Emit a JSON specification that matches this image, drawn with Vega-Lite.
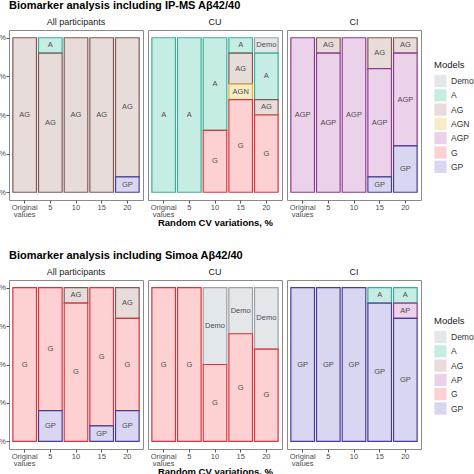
{
  "$schema": "https://vega.github.io/schema/vega-lite/v6.json",
  "padding": {"left": -15, "top": 0, "right": 0, "bottom": 0},
  "background": "white",
  "datasets": {
    "ipms": [
      {"group": "All participants", "cv": "Original values", "model": "AG", "pct": 100},
      {"group": "All participants", "cv": "5", "model": "A", "pct": 10},
      {"group": "All participants", "cv": "5", "model": "AG", "pct": 90},
      {"group": "All participants", "cv": "10", "model": "AG", "pct": 100},
      {"group": "All participants", "cv": "15", "model": "AG", "pct": 100},
      {"group": "All participants", "cv": "20", "model": "AG", "pct": 90},
      {"group": "All participants", "cv": "20", "model": "GP", "pct": 10},
      {"group": "CU", "cv": "Original values", "model": "A", "pct": 100},
      {"group": "CU", "cv": "5", "model": "A", "pct": 100},
      {"group": "CU", "cv": "10", "model": "A", "pct": 60},
      {"group": "CU", "cv": "10", "model": "G", "pct": 40},
      {"group": "CU", "cv": "15", "model": "A", "pct": 10},
      {"group": "CU", "cv": "15", "model": "AG", "pct": 20},
      {"group": "CU", "cv": "15", "model": "AGN", "pct": 10},
      {"group": "CU", "cv": "15", "model": "G", "pct": 60},
      {"group": "CU", "cv": "20", "model": "Demo", "pct": 10},
      {"group": "CU", "cv": "20", "model": "A", "pct": 30},
      {"group": "CU", "cv": "20", "model": "AG", "pct": 10},
      {"group": "CU", "cv": "20", "model": "G", "pct": 50},
      {"group": "CI", "cv": "Original values", "model": "AGP", "pct": 100},
      {"group": "CI", "cv": "5", "model": "AG", "pct": 10},
      {"group": "CI", "cv": "5", "model": "AGP", "pct": 90},
      {"group": "CI", "cv": "10", "model": "AGP", "pct": 100},
      {"group": "CI", "cv": "15", "model": "AG", "pct": 20},
      {"group": "CI", "cv": "15", "model": "AGP", "pct": 70},
      {"group": "CI", "cv": "15", "model": "GP", "pct": 10},
      {"group": "CI", "cv": "20", "model": "AG", "pct": 10},
      {"group": "CI", "cv": "20", "model": "AGP", "pct": 60},
      {"group": "CI", "cv": "20", "model": "GP", "pct": 30}
    ],
    "simoa": [
      {"group": "All participants", "cv": "Original values", "model": "G", "pct": 100},
      {"group": "All participants", "cv": "5", "model": "G", "pct": 80},
      {"group": "All participants", "cv": "5", "model": "GP", "pct": 20},
      {"group": "All participants", "cv": "10", "model": "AG", "pct": 10},
      {"group": "All participants", "cv": "10", "model": "G", "pct": 90},
      {"group": "All participants", "cv": "15", "model": "G", "pct": 90},
      {"group": "All participants", "cv": "15", "model": "GP", "pct": 10},
      {"group": "All participants", "cv": "20", "model": "AG", "pct": 20},
      {"group": "All participants", "cv": "20", "model": "G", "pct": 60},
      {"group": "All participants", "cv": "20", "model": "GP", "pct": 20},
      {"group": "CU", "cv": "Original values", "model": "G", "pct": 100},
      {"group": "CU", "cv": "5", "model": "G", "pct": 100},
      {"group": "CU", "cv": "10", "model": "Demo", "pct": 50},
      {"group": "CU", "cv": "10", "model": "G", "pct": 50},
      {"group": "CU", "cv": "15", "model": "Demo", "pct": 30},
      {"group": "CU", "cv": "15", "model": "G", "pct": 70},
      {"group": "CU", "cv": "20", "model": "Demo", "pct": 40},
      {"group": "CU", "cv": "20", "model": "G", "pct": 60},
      {"group": "CI", "cv": "Original values", "model": "GP", "pct": 100},
      {"group": "CI", "cv": "5", "model": "GP", "pct": 100},
      {"group": "CI", "cv": "10", "model": "GP", "pct": 100},
      {"group": "CI", "cv": "15", "model": "A", "pct": 10},
      {"group": "CI", "cv": "15", "model": "GP", "pct": 90},
      {"group": "CI", "cv": "20", "model": "A", "pct": 10},
      {"group": "CI", "cv": "20", "model": "AP", "pct": 10},
      {"group": "CI", "cv": "20", "model": "GP", "pct": 80}
    ]
  },
  "resolve": {"scale": {"fill": "independent", "stroke": "independent"}, "legend": {"fill": "independent"}},
  "spacing": 22,
  "vconcat": [
    {
      "title": {"text": "Biomarker analysis including IP-MS Aβ42/40", "anchor": "start", "frame": "group", "fontSize": 11, "fontWeight": "bold", "font": "Liberation Sans", "color": "#000", "offset": 4},
      "spacing": 3,
      "hconcat": [
        {
          "spacing": 0,
          "vconcat": [
            {"width": 134, "height": 14, "data": {"values": [{"strip": "All participants"}]}, "mark": {"type": "text", "fontSize": 9, "color": "#1a1a1a", "font": "Liberation Sans"}, "encoding": {"text": {"field": "strip"}}},
            {
              "width": 134, "height": 170,
              "data": {"name": "ipms"},
              "transform": [
                {"filter": "datum.group == 'All participants'"},
                {"calculate": "indexof(['Demo','A','AG','AGN','AGP','AP','G','GP'], datum.model)", "as": "rank"},
                {"stack": "pct", "groupby": ["cv"], "sort": [{"field": "rank", "order": "descending"}], "as": ["y0", "y1"]},
                {"calculate": "(datum.y0 + datum.y1) / 2", "as": "ymid"}
              ],
              "encoding": {
                "x": {"field": "cv", "type": "nominal", "sort": ["Original values", "5", "10", "15", "20"], "scale": {"paddingInner": 0.08, "paddingOuter": 0.15}, "axis": {"title": null, "labelAngle": 0, "labelExpr": "datum.value == 'Original values' ? ['Original', 'values'] : datum.value", "labelLineHeight": 7}}
              },
              "layer": [
                {"mark": {"type": "bar", "strokeWidth": 1.2}, "encoding": {
                  "y": {"field": "y0", "type": "quantitative", "scale": {"domain": [-5, 105], "nice": false, "zero": false}, "axis": {"title": null, "values": [0, 25, 50, 75, 100], "labelExpr": "datum.value + '%'"}},
                  "y2": {"field": "y1"},
                  "fill": {"field": "model", "type": "nominal", "scale": {"domain": ["Demo", "A", "AG", "AGN", "AGP", "G", "GP"], "range": ["#e3e7ea", "#c6ede4", "#e7dcd9", "#f8ecc5", "#ebd2ea", "#fdd1d1", "#d9d6f1"]}, "legend": {"title": "Models", "orient": "none", "legendX": 425, "legendY": 45, "labelExpr": "datum.label == 'Demo' ? 'Demographics' : datum.label"}},
                  "stroke": {"field": "model", "type": "nominal", "scale": {"domain": ["Demo", "A", "AG", "AGN", "AGP", "G", "GP"], "range": ["#9ba1a5", "#3aae98", "#7d5a55", "#e3b43c", "#8c3a8e", "#d5373d", "#4a3b96"]}, "legend": null}
                }},
                {"mark": {"type": "text", "fontSize": 7.5, "color": "#4d4d4d", "font": "Liberation Sans"}, "encoding": {
                  "y": {"field": "ymid", "type": "quantitative", "axis": {"title": null, "values": [0, 25, 50, 75, 100], "labelExpr": "datum.value + '%'"}},
                  "text": {"field": "model"}
                }}
              ]
            }
          ]
        },
        {
          "spacing": 0,
          "vconcat": [
            {"width": 134, "height": 14, "data": {"values": [{"strip": "CU"}]}, "mark": {"type": "text", "fontSize": 9, "color": "#1a1a1a", "font": "Liberation Sans"}, "encoding": {"text": {"field": "strip"}}},
            {
              "width": 134, "height": 170,
              "data": {"name": "ipms"},
              "transform": [
                {"filter": "datum.group == 'CU'"},
                {"calculate": "indexof(['Demo','A','AG','AGN','AGP','AP','G','GP'], datum.model)", "as": "rank"},
                {"stack": "pct", "groupby": ["cv"], "sort": [{"field": "rank", "order": "descending"}], "as": ["y0", "y1"]},
                {"calculate": "(datum.y0 + datum.y1) / 2", "as": "ymid"}
              ],
              "encoding": {
                "x": {"field": "cv", "type": "nominal", "sort": ["Original values", "5", "10", "15", "20"], "scale": {"paddingInner": 0.08, "paddingOuter": 0.15}, "axis": {"title": "Random CV variations, %", "titleBaseline": "middle", "titleY": 22.5, "labelAngle": 0, "labelExpr": "datum.value == 'Original values' ? ['Original', 'values'] : datum.value", "labelLineHeight": 7}}
              },
              "layer": [
                {"mark": {"type": "bar", "strokeWidth": 1.2}, "encoding": {
                  "y": {"field": "y0", "type": "quantitative", "scale": {"domain": [-5, 105], "nice": false, "zero": false}, "axis": null},
                  "y2": {"field": "y1"},
                  "fill": {"field": "model", "type": "nominal", "scale": {"domain": ["Demo", "A", "AG", "AGN", "AGP", "G", "GP"], "range": ["#e3e7ea", "#c6ede4", "#e7dcd9", "#f8ecc5", "#ebd2ea", "#fdd1d1", "#d9d6f1"]}, "legend": {"title": "Models", "orient": "none", "legendX": 425, "legendY": 45, "labelExpr": "datum.label == 'Demo' ? 'Demographics' : datum.label"}},
                  "stroke": {"field": "model", "type": "nominal", "scale": {"domain": ["Demo", "A", "AG", "AGN", "AGP", "G", "GP"], "range": ["#9ba1a5", "#3aae98", "#7d5a55", "#e3b43c", "#8c3a8e", "#d5373d", "#4a3b96"]}, "legend": null}
                }},
                {"mark": {"type": "text", "fontSize": 7.5, "color": "#4d4d4d", "font": "Liberation Sans"}, "encoding": {
                  "y": {"field": "ymid", "type": "quantitative", "axis": null},
                  "text": {"field": "model"}
                }}
              ]
            }
          ]
        },
        {
          "spacing": 0,
          "vconcat": [
            {"width": 134, "height": 14, "data": {"values": [{"strip": "CI"}]}, "mark": {"type": "text", "fontSize": 9, "color": "#1a1a1a", "font": "Liberation Sans"}, "encoding": {"text": {"field": "strip"}}},
            {
              "width": 134, "height": 170,
              "data": {"name": "ipms"},
              "transform": [
                {"filter": "datum.group == 'CI'"},
                {"calculate": "indexof(['Demo','A','AG','AGN','AGP','AP','G','GP'], datum.model)", "as": "rank"},
                {"stack": "pct", "groupby": ["cv"], "sort": [{"field": "rank", "order": "descending"}], "as": ["y0", "y1"]},
                {"calculate": "(datum.y0 + datum.y1) / 2", "as": "ymid"}
              ],
              "encoding": {
                "x": {"field": "cv", "type": "nominal", "sort": ["Original values", "5", "10", "15", "20"], "scale": {"paddingInner": 0.08, "paddingOuter": 0.15}, "axis": {"title": null, "labelAngle": 0, "labelExpr": "datum.value == 'Original values' ? ['Original', 'values'] : datum.value", "labelLineHeight": 7}}
              },
              "layer": [
                {"mark": {"type": "bar", "strokeWidth": 1.2}, "encoding": {
                  "y": {"field": "y0", "type": "quantitative", "scale": {"domain": [-5, 105], "nice": false, "zero": false}, "axis": null},
                  "y2": {"field": "y1"},
                  "fill": {"field": "model", "type": "nominal", "scale": {"domain": ["Demo", "A", "AG", "AGN", "AGP", "G", "GP"], "range": ["#e3e7ea", "#c6ede4", "#e7dcd9", "#f8ecc5", "#ebd2ea", "#fdd1d1", "#d9d6f1"]}, "legend": {"title": "Models", "orient": "none", "legendX": 425, "legendY": 45, "labelExpr": "datum.label == 'Demo' ? 'Demographics' : datum.label"}},
                  "stroke": {"field": "model", "type": "nominal", "scale": {"domain": ["Demo", "A", "AG", "AGN", "AGP", "G", "GP"], "range": ["#9ba1a5", "#3aae98", "#7d5a55", "#e3b43c", "#8c3a8e", "#d5373d", "#4a3b96"]}, "legend": null}
                }},
                {"mark": {"type": "text", "fontSize": 7.5, "color": "#4d4d4d", "font": "Liberation Sans"}, "encoding": {
                  "y": {"field": "ymid", "type": "quantitative", "axis": null},
                  "text": {"field": "model"}
                }}
              ]
            }
          ]
        }
      ]
    },
    {
      "title": {"text": "Biomarker analysis including Simoa Aβ42/40", "anchor": "start", "frame": "group", "fontSize": 11, "fontWeight": "bold", "font": "Liberation Sans", "color": "#000", "offset": 4},
      "spacing": 3,
      "hconcat": [
        {
          "spacing": 0,
          "vconcat": [
            {"width": 134, "height": 14, "data": {"values": [{"strip": "All participants"}]}, "mark": {"type": "text", "fontSize": 9, "color": "#1a1a1a", "font": "Liberation Sans"}, "encoding": {"text": {"field": "strip"}}},
            {
              "width": 134, "height": 169,
              "data": {"name": "simoa"},
              "transform": [
                {"filter": "datum.group == 'All participants'"},
                {"calculate": "indexof(['Demo','A','AG','AGN','AGP','AP','G','GP'], datum.model)", "as": "rank"},
                {"stack": "pct", "groupby": ["cv"], "sort": [{"field": "rank", "order": "descending"}], "as": ["y0", "y1"]},
                {"calculate": "(datum.y0 + datum.y1) / 2", "as": "ymid"}
              ],
              "encoding": {
                "x": {"field": "cv", "type": "nominal", "sort": ["Original values", "5", "10", "15", "20"], "scale": {"paddingInner": 0.08, "paddingOuter": 0.15}, "axis": {"title": null, "labelAngle": 0, "labelExpr": "datum.value == 'Original values' ? ['Original', 'values'] : datum.value", "labelLineHeight": 7}}
              },
              "layer": [
                {"mark": {"type": "bar", "strokeWidth": 1.2}, "encoding": {
                  "y": {"field": "y0", "type": "quantitative", "scale": {"domain": [-5, 105], "nice": false, "zero": false}, "axis": {"title": null, "values": [0, 25, 50, 75, 100], "labelExpr": "datum.value + '%'"}},
                  "y2": {"field": "y1"},
                  "fill": {"field": "model", "type": "nominal", "scale": {"domain": ["Demo", "A", "AG", "AP", "G", "GP"], "range": ["#e3e7ea", "#c6ede4", "#e7dcd9", "#ebd2ea", "#fdd1d1", "#d9d6f1"]}, "legend": {"title": "Models", "orient": "none", "legendX": 425, "legendY": 51, "labelExpr": "datum.label == 'Demo' ? 'Demographics' : datum.label"}},
                  "stroke": {"field": "model", "type": "nominal", "scale": {"domain": ["Demo", "A", "AG", "AP", "G", "GP"], "range": ["#9ba1a5", "#3aae98", "#7d5a55", "#8c3a8e", "#d5373d", "#4a3b96"]}, "legend": null}
                }},
                {"mark": {"type": "text", "fontSize": 7.5, "color": "#4d4d4d", "font": "Liberation Sans"}, "encoding": {
                  "y": {"field": "ymid", "type": "quantitative", "axis": {"title": null, "values": [0, 25, 50, 75, 100], "labelExpr": "datum.value + '%'"}},
                  "text": {"field": "model"}
                }}
              ]
            }
          ]
        },
        {
          "spacing": 0,
          "vconcat": [
            {"width": 134, "height": 14, "data": {"values": [{"strip": "CU"}]}, "mark": {"type": "text", "fontSize": 9, "color": "#1a1a1a", "font": "Liberation Sans"}, "encoding": {"text": {"field": "strip"}}},
            {
              "width": 134, "height": 169,
              "data": {"name": "simoa"},
              "transform": [
                {"filter": "datum.group == 'CU'"},
                {"calculate": "indexof(['Demo','A','AG','AGN','AGP','AP','G','GP'], datum.model)", "as": "rank"},
                {"stack": "pct", "groupby": ["cv"], "sort": [{"field": "rank", "order": "descending"}], "as": ["y0", "y1"]},
                {"calculate": "(datum.y0 + datum.y1) / 2", "as": "ymid"}
              ],
              "encoding": {
                "x": {"field": "cv", "type": "nominal", "sort": ["Original values", "5", "10", "15", "20"], "scale": {"paddingInner": 0.08, "paddingOuter": 0.15}, "axis": {"title": "Random CV variations, %", "titleBaseline": "middle", "titleY": 22.5, "labelAngle": 0, "labelExpr": "datum.value == 'Original values' ? ['Original', 'values'] : datum.value", "labelLineHeight": 7}}
              },
              "layer": [
                {"mark": {"type": "bar", "strokeWidth": 1.2}, "encoding": {
                  "y": {"field": "y0", "type": "quantitative", "scale": {"domain": [-5, 105], "nice": false, "zero": false}, "axis": null},
                  "y2": {"field": "y1"},
                  "fill": {"field": "model", "type": "nominal", "scale": {"domain": ["Demo", "A", "AG", "AP", "G", "GP"], "range": ["#e3e7ea", "#c6ede4", "#e7dcd9", "#ebd2ea", "#fdd1d1", "#d9d6f1"]}, "legend": {"title": "Models", "orient": "none", "legendX": 425, "legendY": 51, "labelExpr": "datum.label == 'Demo' ? 'Demographics' : datum.label"}},
                  "stroke": {"field": "model", "type": "nominal", "scale": {"domain": ["Demo", "A", "AG", "AP", "G", "GP"], "range": ["#9ba1a5", "#3aae98", "#7d5a55", "#8c3a8e", "#d5373d", "#4a3b96"]}, "legend": null}
                }},
                {"mark": {"type": "text", "fontSize": 7.5, "color": "#4d4d4d", "font": "Liberation Sans"}, "encoding": {
                  "y": {"field": "ymid", "type": "quantitative", "axis": null},
                  "text": {"field": "model"}
                }}
              ]
            }
          ]
        },
        {
          "spacing": 0,
          "vconcat": [
            {"width": 134, "height": 14, "data": {"values": [{"strip": "CI"}]}, "mark": {"type": "text", "fontSize": 9, "color": "#1a1a1a", "font": "Liberation Sans"}, "encoding": {"text": {"field": "strip"}}},
            {
              "width": 134, "height": 169,
              "data": {"name": "simoa"},
              "transform": [
                {"filter": "datum.group == 'CI'"},
                {"calculate": "indexof(['Demo','A','AG','AGN','AGP','AP','G','GP'], datum.model)", "as": "rank"},
                {"stack": "pct", "groupby": ["cv"], "sort": [{"field": "rank", "order": "descending"}], "as": ["y0", "y1"]},
                {"calculate": "(datum.y0 + datum.y1) / 2", "as": "ymid"}
              ],
              "encoding": {
                "x": {"field": "cv", "type": "nominal", "sort": ["Original values", "5", "10", "15", "20"], "scale": {"paddingInner": 0.08, "paddingOuter": 0.15}, "axis": {"title": null, "labelAngle": 0, "labelExpr": "datum.value == 'Original values' ? ['Original', 'values'] : datum.value", "labelLineHeight": 7}}
              },
              "layer": [
                {"mark": {"type": "bar", "strokeWidth": 1.2}, "encoding": {
                  "y": {"field": "y0", "type": "quantitative", "scale": {"domain": [-5, 105], "nice": false, "zero": false}, "axis": null},
                  "y2": {"field": "y1"},
                  "fill": {"field": "model", "type": "nominal", "scale": {"domain": ["Demo", "A", "AG", "AP", "G", "GP"], "range": ["#e3e7ea", "#c6ede4", "#e7dcd9", "#ebd2ea", "#fdd1d1", "#d9d6f1"]}, "legend": {"title": "Models", "orient": "none", "legendX": 425, "legendY": 51, "labelExpr": "datum.label == 'Demo' ? 'Demographics' : datum.label"}},
                  "stroke": {"field": "model", "type": "nominal", "scale": {"domain": ["Demo", "A", "AG", "AP", "G", "GP"], "range": ["#9ba1a5", "#3aae98", "#7d5a55", "#8c3a8e", "#d5373d", "#4a3b96"]}, "legend": null}
                }},
                {"mark": {"type": "text", "fontSize": 7.5, "color": "#4d4d4d", "font": "Liberation Sans"}, "encoding": {
                  "y": {"field": "ymid", "type": "quantitative", "axis": null},
                  "text": {"field": "model"}
                }}
              ]
            }
          ]
        }
      ]
    }
  ],
  "config": {
    "font": "Liberation Sans",
    "view": {"stroke": "#8a8a8a", "strokeWidth": 1},
    "axis": {"labelFont": "Liberation Sans", "labelFontSize": 7.5, "labelColor": "#4d4d4d", "tickColor": "#555", "tickSize": 3, "labelPadding": 0.5, "domain": false, "grid": false, "titleFont": "Liberation Sans", "titleFontSize": 9.5, "titleFontWeight": "bold", "titleColor": "#000", "titlePadding": 3},
    "legend": {"symbolType": "square", "symbolSize": 150, "symbolStrokeWidth": 0, "rowPadding": 1.3, "labelFontSize": 8.5, "labelColor": "#333", "labelFont": "Liberation Sans", "titleFont": "Liberation Sans", "titleFontSize": 9.5, "titleFontWeight": "normal", "titleColor": "#1a1a1a", "titlePadding": 5}
  }
}
